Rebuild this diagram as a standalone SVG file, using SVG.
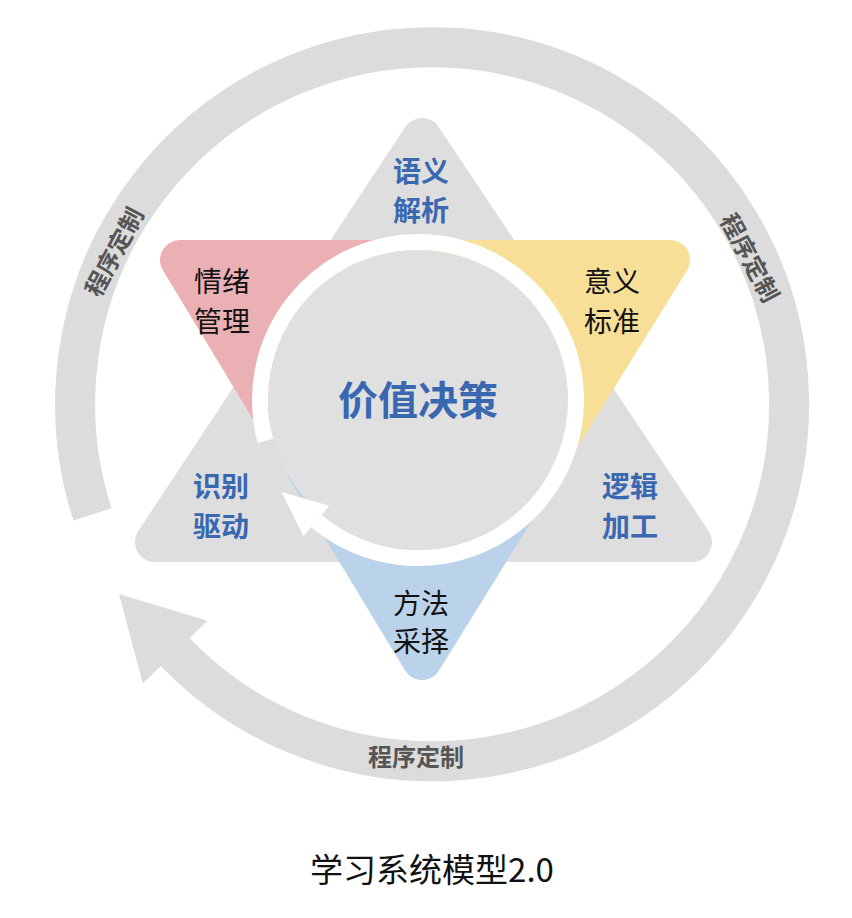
<svg xmlns="http://www.w3.org/2000/svg" width="852" height="918" viewBox="0 0 852 918">
<style>
.t{font-family:"Noto Sans CJK SC","Noto Sans",sans-serif;font-size:28px;text-anchor:middle}
.b{font-weight:bold;fill:#3a68b0}
.k{fill:#111}
.r{font-family:"Noto Sans CJK SC","Noto Sans",sans-serif;font-size:24px;font-weight:bold;fill:#555;text-anchor:middle}
</style>
<defs>
<clipPath id="cp"><polygon points="418,400 405,0 0,0 0,470"/></clipPath>
<clipPath id="cy"><polygon points="418,400 432,0 852,0 852,641"/></clipPath>
<clipPath id="cb"><polygon points="418,400 0,641 0,918 852,918 852,641"/></clipPath>
</defs>
<rect width="852" height="918" fill="#fff"/>
<g id="outer-ring">
<path d="M92.5,514.3 A357,357 0 1 1 175.2,652.1" fill="none" stroke="#dcdcdc" stroke-width="40"/>
<polygon points="142.8,683.4 207.5,620.8 119,594" fill="#dcdcdc"/>
<text class="r" transform="translate(122,256) rotate(-62)">程序定制</text>
<text class="r" transform="translate(742,262) rotate(62)">程序定制</text>
<text class="r" x="416" y="766">程序定制</text>
</g>
<g id="up-triangle">
<polygon points="422,138 155,542 692,542" fill="#dedede" stroke="#dedede" stroke-width="40" stroke-linejoin="round"/>
</g>
<g id="down-triangle">
<polygon clip-path="url(#cp)" points="180,260 670,260 422,660" fill="#ebb0b3" stroke="#ebb0b3" stroke-width="40" stroke-linejoin="round"/>
<polygon clip-path="url(#cy)" points="180,260 670,260 422,660" fill="#f7df98" stroke="#f7df98" stroke-width="40" stroke-linejoin="round"/>
<polygon clip-path="url(#cb)" points="180,260 670,260 422,660" fill="#bad3ea" stroke="#bad3ea" stroke-width="40" stroke-linejoin="round"/>
</g>
<g id="center">
<circle cx="418" cy="400" r="150" fill="#e0e0e0"/>
<path d="M265.4,440.9 A158,158 0 1 1 316.4,521" fill="none" stroke="#fff" stroke-width="16"/>
<polygon points="303.5,536.3 329.3,505.7 281.5,492" fill="#fff"/>
<text class="t b" x="418" y="415" style="font-size:40px">价值决策</text>
</g>
<g id="labels">
<text class="t b" x="421" y="182">语义</text><text class="t b" x="421" y="221">解析</text>
<text class="t k" x="222" y="292">情绪</text><text class="t k" x="222" y="332">管理</text>
<text class="t k" x="612" y="292">意义</text><text class="t k" x="612" y="332">标准</text>
<text class="t b" x="221" y="497">识别</text><text class="t b" x="221" y="537">驱动</text>
<text class="t b" x="630" y="497">逻辑</text><text class="t b" x="630" y="537">加工</text>
<text class="t k" x="421" y="614">方法</text><text class="t k" x="421" y="652">采择</text>
</g>
<text class="t k" x="432" y="882" style="font-size:33px">学习系统模型2.0</text>
</svg>
